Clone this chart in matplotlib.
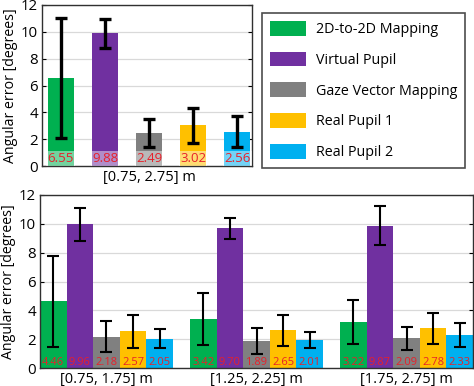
import matplotlib
matplotlib.use("Agg")
import matplotlib.pyplot as plt
import numpy as np
from matplotlib.patches import Patch

plt.rcParams['font.family'] = ['Open Sans', 'DejaVu Sans']

methods = ["2D-to-2D Mapping", "Virtual Pupil", "Gaze Vector Mapping", "Real Pupil 1", "Real Pupil 2"]
colors = ["#00b050", "#7030a0", "#808080", "#ffc000", "#00b0f0"]

# Top chart: overall range
top_range = "[0.75, 2.75] m"
top_means = [6.55, 9.88, 2.49, 3.02, 2.56]
top_errs = [4.45, 1.10, 1.05, 1.33, 1.17]
top_labels = ["6.55", "9.88", "2.49", "3.02", "2.56"]

# Bottom chart: sub-ranges (rows = ranges, cols = methods)
bottom_ranges = ["[0.75, 1.75] m", "[1.25, 2.25] m", "[1.75, 2.75] m"]
bottom_means = [
    [4.62, 9.96, 2.16, 2.55, 2.03],
    [3.40, 9.70, 1.86, 2.62, 1.97],
    [3.19, 9.87, 2.05, 2.75, 2.30],
]
bottom_errs = [
    [3.17, 1.12, 1.07, 1.16, 0.65],
    [1.78, 0.73, 0.92, 1.09, 0.56],
    [1.52, 1.36, 0.80, 1.06, 0.84],
]
bottom_labels = [
    ["4.46", "9.96", "2.18", "2.57", "2.05"],
    ["3.42", "9.70", "1.89", "2.65", "2.01"],
    ["3.22", "9.87", "2.09", "2.78", "2.33"],
]

yticks = [0, 2, 4, 6, 8, 10, 12]
label_red = "#e8202a"

W, H = 474, 386
fig = plt.figure(figsize=(W / 100, H / 100), dpi=100)

def style_axes(ax):
    ax.set_ylim(0, 12)
    ax.set_yticks(yticks)
    ax.yaxis.grid(True, color="#d9d9d9", lw=0.9)
    ax.set_axisbelow(True)
    ax.tick_params(axis='y', direction='in', length=3, right=True, labelsize=10.8, pad=3)
    ax.tick_params(axis='x', length=0, labelsize=10.5, pad=3)
    for s in ax.spines.values():
        s.set_color("#303030")
        s.set_linewidth(1.0)
    ax.set_ylabel("Angular error [degrees]", fontsize=10.2, labelpad=2)

# --- top axes
ax1 = fig.add_axes([42 / W, 1 - 166 / H, 210 / W, 161 / H])
x = np.arange(len(methods))
ax1.bar(x, top_means, width=0.61, color=colors, zorder=2)
ax1.errorbar(x, top_means, yerr=top_errs, fmt='none', ecolor='black',
             elinewidth=2.4, capsize=4.5, capthick=2.4, zorder=3)
for xi, lab in zip(x, top_labels):
    ax1.text(xi, 0.08, lab, ha='center', va='bottom', color=label_red, fontsize=9.5, zorder=4,
             bbox=dict(boxstyle='square,pad=0.1', facecolor='white', alpha=0.45, edgecolor='none'))
ax1.set_xlim(-0.43, 4.34)
ax1.set_xticks([2])
ax1.set_xticklabels([top_range])
style_axes(ax1)

# --- legend
handles = [Patch(facecolor=c, edgecolor='none') for c in colors]
leg = fig.legend(handles, methods, loc='upper left', bbox_to_anchor=(262 / W, 1 - 13 / H),
                 fontsize=10.3, frameon=True, fancybox=False, handlelength=2.5, handleheight=1.2,
                 handletextpad=0.7, labelspacing=1.02, borderpad=0.55, borderaxespad=0)
leg.get_frame().set_edgecolor('#202020')
leg.get_frame().set_linewidth(1.2)

# --- bottom axes
ax2 = fig.add_axes([40 / W, 1 - 368 / H, 433 / W, 173 / H])
bw = 0.177
groups = np.arange(1, len(bottom_ranges) + 1)
for j, (m, c) in enumerate(zip(methods, colors)):
    xs = groups + (j - 2) * bw
    means = [bottom_means[g][j] for g in range(len(groups))]
    errs = [bottom_errs[g][j] for g in range(len(groups))]
    ax2.bar(xs, means, width=bw, color=c, zorder=2)
    ax2.errorbar(xs, means, yerr=errs, fmt='none', ecolor='black',
                 elinewidth=1.5, capsize=4.5, capthick=1.5, zorder=3)
    for g in range(len(groups)):
        ax2.text(xs[g], 0.0, bottom_labels[g][j], ha='center', va='bottom',
                 color=label_red, fontsize=8, zorder=4)
ax2.set_xlim(1 - 0.443, 3 + 0.443)
ax2.set_xticks(groups)
ax2.set_xticklabels(bottom_ranges)
style_axes(ax2)

fig.savefig("out.png", dpi=100)
